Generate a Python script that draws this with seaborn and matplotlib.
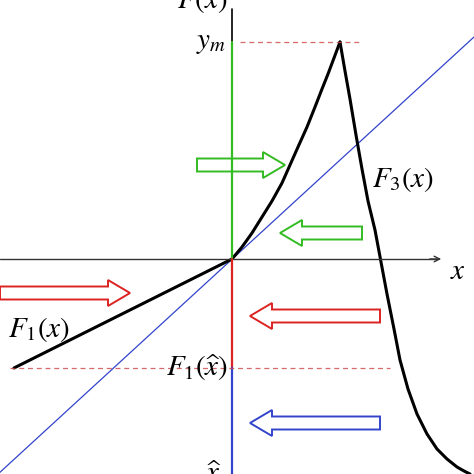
import matplotlib
matplotlib.use("Agg")
import matplotlib.pyplot as plt
import seaborn as sns
import numpy as np
from matplotlib.patches import FancyArrow

sns.set_style("white")
plt.rcParams['mathtext.fontset'] = 'stix'

# curve samples (origin at axis crossing)
f1_x = [-218, 0]
f1_y = [-109, 0]
f2_x = [0, 10, 20, 30, 40, 50, 58, 66, 75, 83, 90, 96, 102, 108]
f2_y = [0, 12, 26, 42, 58, 76, 94, 112, 132, 152, 170, 185, 201, 217]
f3_x = [108, 113, 118, 124, 130, 136, 143, 149, 155, 162, 168, 176, 185, 195, 205, 215, 225, 232, 238]
f3_y = [217, 188, 160, 124, 90, 58, 29, -3, -35, -70, -101, -130, -155, -175, -190, -200, -208, -212, -215]
diag_x = [-235, 242]
diag_y = [-216, 222]
y_m = 217
f1_hat = -109

fig = plt.figure(figsize=(4.74, 4.74), dpi=100)
ax = fig.add_axes([0, 0, 1, 1])
ax.set_xlim(-232, 242)
ax.set_ylim(-215, 259)
ax.axis('off')

sns.lineplot(x=diag_x, y=diag_y, color='#3344cc', lw=0.9, ax=ax)
sns.lineplot(x=f1_x, y=f1_y, color='black', lw=2.2, ax=ax)
sns.lineplot(x=f2_x, y=f2_y, color='black', lw=2.2, ax=ax)
sns.lineplot(x=f3_x, y=f3_y, color='black', lw=2.2, ax=ax, sort=False)

# axes
ax.plot([-232, 205], [0, 0], color='#333333', lw=1)
ax.annotate('', xy=(212, 0), xytext=(195, 0), arrowprops=dict(arrowstyle='->', color='#333333', lw=1))
ax.plot([0, 0], [y_m, 250], color='black', lw=1.2)
ax.annotate('', xy=(0, 260), xytext=(0, 240), arrowprops=dict(arrowstyle='->', color='black', lw=1.2))
ax.plot([0, 0], [0, y_m], color='#33bb22', lw=1.6)
ax.plot([0, 0], [f1_hat, 0], color='#dd2222', lw=1.6)
ax.plot([0, 0], [-215, f1_hat], color='#3344cc', lw=1.6)

ax.plot([8, 128], [y_m, y_m], color='#cc4444', lw=0.9, ls=(0, (4, 3)), alpha=0.8)
ax.plot([-222, 158], [f1_hat, f1_hat], color='#cc4444', lw=0.9, ls=(0, (4, 3)), alpha=0.8)

def harrow(x0, x1, y, color):
    dx = x1 - x0
    ax.add_patch(FancyArrow(x0, y, dx, 0, width=13, head_width=26, head_length=22,
                            length_includes_head=True, fill=False, ec=color, lw=1.4))

harrow(-232, -102, -34, '#dd2222')
harrow(-35, 53, 94, '#33bb22')
harrow(130, 48, 26, '#33bb22')
harrow(148, 18, -57, '#dd2222')
harrow(148, 18, -164, '#3344cc')

kw = dict(fontsize=21, color='black')
ax.text(-4, 259, r'$F(x)$', ha='right', va='center', **kw)
ax.text(-6, y_m, r'$y_m$', ha='right', va='center', **kw)
ax.text(140, 80, r'$F_3(x)$', ha='left', va='center', **kw)
ax.text(226, -12, r'$x$', ha='center', va='center', **kw)
ax.text(-224, -70, r'$F_1(x)$', ha='left', va='center', **kw)
ax.text(-4, f1_hat, r'$F_1(\widehat{x})$', ha='right', va='center', **kw)
ax.text(-10, -215, r'$\widehat{x}$', ha='right', va='center', **kw)

fig.savefig('out.png', dpi=100)
